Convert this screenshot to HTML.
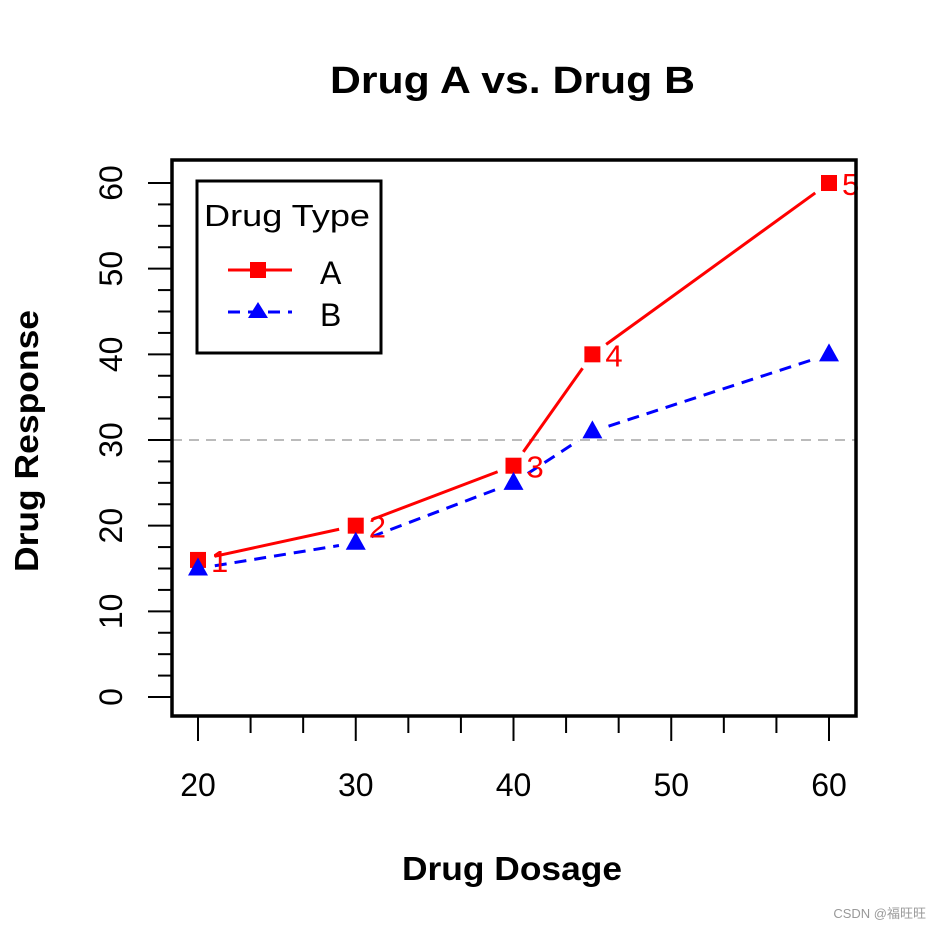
<!DOCTYPE html>
<html><head><meta charset="utf-8"><style>
html,body{margin:0;padding:0;background:#fff;}
svg{display:block;font-family:"Liberation Sans",Arial,sans-serif;}
</style></head><body>
<svg id="chart" width="942" height="930" viewBox="0 0 942 930" xmlns="http://www.w3.org/2000/svg">
<text x="330" y="93" font-size="38" font-weight="bold" textLength="365" lengthAdjust="spacingAndGlyphs">Drug A vs. Drug B</text>
<text x="402" y="880" font-size="33" font-weight="bold" textLength="220" lengthAdjust="spacingAndGlyphs">Drug Dosage</text>
<text transform="translate(38,572) rotate(-90)" font-size="33" font-weight="bold" textLength="262" lengthAdjust="spacingAndGlyphs">Drug Response</text>
<g id="plot"></g>
<g>
<rect x="197" y="181" width="184" height="172" fill="#fff" stroke="#000" stroke-width="3"/>
<text x="204" y="226" font-size="31" textLength="166" lengthAdjust="spacingAndGlyphs">Drug Type</text>
<g>
<line x1="228" y1="270" x2="292" y2="270" stroke="red" stroke-width="3"/>
<rect x="250" y="262" width="16" height="16" fill="red"/>
<text x="320" y="284" font-size="32">A</text></g>
<g>
<line x1="228" y1="312" x2="292" y2="312" stroke="blue" stroke-width="3" stroke-dasharray="12,8"/>
<polygon points="258,302 248,318 268,318" fill="blue"/>
<text x="320" y="326" font-size="32">B</text></g>
</g>
<text x="926" y="918" font-size="13" fill="#999" text-anchor="end" font-family="'Liberation Sans','Noto Sans CJK SC',sans-serif">CSDN @福旺旺</text>
</svg>
<script>
const dose = [20, 30, 40, 45, 60];
const drugA = [16, 20, 27, 40, 60];
const drugB = [15, 18, 25, 31, 40];
const xTicks = [20, 30, 40, 50, 60];
const yTicks = [0, 10, 20, 30, 40, 50, 60];
const refLine = 30;

const NS = "http://www.w3.org/2000/svg";
const g = document.getElementById("plot");
function X(v){return 198 + (v-20)*(829-198)/40;}
function Y(v){return 697 - v*(697-183)/60;}
function mk(tag, attrs, parent){const e=document.createElementNS(NS,tag);for(const k in attrs)e.setAttribute(k,attrs[k]);(parent||g).appendChild(e);return e;}

let rl = mk("line",{x1:172,x2:856,y1:Y(refLine),y2:Y(refLine),stroke:"#bbb","stroke-width":2,"stroke-dasharray":"10,7"});



for (let v = 20; v <= 60 + 1e-6; v += 10/3) {
  const major = xTicks.some(t => Math.abs(t - v) < 1e-6);
  const t = mk("line",{x1:X(v),x2:X(v),y1:716,y2:major?741:733,stroke:"#000","stroke-width":2});
  
  
}
xTicks.forEach(v=>{
  const t = mk("text",{x:X(v),y:796,"font-size":32,"text-anchor":"middle"});
  t.textContent = v;
  
  
});
for (let v = 0; v <= 60 + 1e-6; v += 2.5) {
  const major = yTicks.some(t => Math.abs(t - v) < 1e-6);
  const t = mk("line",{x1:major?148:158,x2:172,y1:Y(v),y2:Y(v),stroke:"#000","stroke-width":2});
  
  
}
yTicks.forEach(v=>{
  const t = mk("text",{transform:`translate(122,${Y(v)}) rotate(-90)`,"font-size":32,"text-anchor":"middle"});
  t.textContent = v;
  
  
});

function series(vals, color, dash, name){
  const gap = 17;
  for (let i=0;i<vals.length-1;i++){
    const x1=X(dose[i]),y1=Y(vals[i]),x2=X(dose[i+1]),y2=Y(vals[i+1]);
    const dx=x2-x1,dy=y2-y1,L=Math.hypot(dx,dy);
    if (L<2*gap) continue;
    const ux=dx/L,uy=dy/L;
    const s = mk("line",{x1:x1+ux*gap,y1:y1+uy*gap,x2:x2-ux*gap,y2:y2-uy*gap,stroke:color,"stroke-width":3});
    if (dash) s.setAttribute("stroke-dasharray", dash);
    
    
  }
}
series(drugA, "red", null, "drug-a");
series(drugB, "blue", "12,8", "drug-b");

dose.forEach((d,i)=>{
  const r = mk("rect",{x:X(d)-8,y:Y(drugA[i])-8,width:16,height:16,fill:"red"});
  
  
});
dose.forEach((d,i)=>{
  const x=X(d), y=Y(drugB[i]);
  const p = mk("polygon",{points:`${x},${y-11} ${x-10},${y+7} ${x+10},${y+7}`,fill:"blue"});
  
  
});
dose.forEach((d,i)=>{
  const t = mk("text",{x:X(d)+13,y:Y(drugA[i])+12,"font-size":31,fill:"red"});
  t.textContent = i+1;
  
  
});

const box = mk("rect",{x:172,y:160,width:684,height:556,fill:"none",stroke:"#000","stroke-width":3.5});


</script>
</body></html>
